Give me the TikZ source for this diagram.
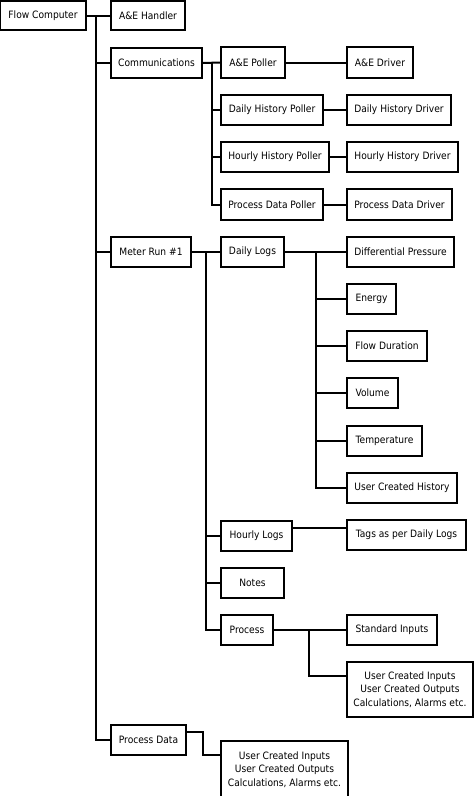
\documentclass[tikz,border=0pt]{standalone}
\usepackage{fontspec}
\setmainfont{DejaVu Sans}[FakeStretch=0.9]
\newcommand\drawbox[6]{\node[box,minimum width={(#4-#2)*0.75pt},minimum height={(#5-#3)*0.75pt}] (#1) at ({(#2+#4)/2},{(#3+#5)/2}) {#6};}
\begin{document}
\begin{tikzpicture}[x=0.75pt,y=-0.75pt,
  box/.style={draw,line width=1.5pt,inner sep=0pt,align=center,fill=white,
    font=\fontsize{7.6}{10.2}\selectfont},
  conn/.style={line width=1.5pt}]
\useasboundingbox (0,0) rectangle (474,796);
% level 1
\drawbox{fc}{0}{1}{86}{30}{Flow Computer}
\drawbox{ae}{111}{1}{185}{30}{A\&E Handler}
\drawbox{comm}{111}{48}{202}{78}{Communications}
\drawbox{mr}{111}{237}{191}{267}{Meter Run \#1}
\drawbox{pd}{111}{725}{186}{755}{Process Data}
% communications
\drawbox{aep}{221}{47}{285}{78}{A\&E Poller}
\drawbox{aed}{347}{47}{413}{78}{A\&E Driver}
\drawbox{dhp}{221}{95}{323}{125}{Daily History Poller}
\drawbox{dhd}{347}{95}{451}{125}{Daily History Driver}
\drawbox{hhp}{221}{142}{329}{172}{Hourly History Poller}
\drawbox{hhd}{347}{142}{458}{172}{Hourly History Driver}
\drawbox{pdp}{221}{189}{323}{220}{Process Data Poller}
\drawbox{pdd}{347}{189}{452}{220}{Process Data Driver}
% meter run
\drawbox{dl}{221}{237}{284}{267}{Daily Logs}
\drawbox{dp}{347}{237}{454}{267}{Differential Pressure}
\drawbox{en}{347}{284}{396}{314}{Energy}
\drawbox{fd}{347}{331}{427}{361}{Flow Duration}
\drawbox{vo}{347}{378}{398}{408}{Volume}
\drawbox{te}{347}{426}{422}{456}{Temperature}
\drawbox{uch}{347}{473}{457}{503}{User Created History}
\drawbox{hl}{221}{521}{292}{551}{Hourly Logs}
\drawbox{tags}{347}{520}{466}{550}{Tags as per Daily Logs}
\drawbox{no}{221}{568}{284}{598}{Notes}
\drawbox{pr}{221}{615}{273}{645}{Process}
\drawbox{si}{347}{615}{437}{645}{Standard Inputs}
\drawbox{pu}{347}{662}{473}{717}{User Created Inputs\\User Created Outputs\\Calculations, Alarms etc.}
\drawbox{pdu}{221}{741}{348}{798}{User Created Inputs\\User Created Outputs\\Calculations, Alarms etc.}
% bus coordinates
\coordinate (b1) at (96,15);
\coordinate (b2) at (212,63);
\coordinate (b3) at (206,252);
\coordinate (b4) at (316,252);
\coordinate (b5) at (309,630);
\coordinate (hly) at (0,528);
\coordinate (pdy) at (0,732);
\coordinate (pdx) at (203,755);
\coordinate (puy) at (0,676);
% connectors
\draw[conn] (fc.east) -- (ae.west);
\draw[conn] (b1) |- (comm.west);
\draw[conn] (b1) |- (mr.west);
\draw[conn] (b1) |- (pd.west);
\draw[conn] (comm.east) -- (aep.west);
\draw[conn] (b2) |- (dhp.west);
\draw[conn] (b2) |- (hhp.west);
\draw[conn] (b2) |- (pdp.west);
\draw[conn] (aep.east) -- (aed.west);
\draw[conn] (dhp.east) -- (dhd.west);
\draw[conn] (hhp.east) -- (hhd.west);
\draw[conn] (pdp.east) -- (pdd.west);
\draw[conn] (mr.east) -- (dl.west);
\draw[conn] (b3) |- (hl.west);
\draw[conn] (b3) |- (no.west);
\draw[conn] (b3) |- (pr.west);
\draw[conn] (dl.east) -- (dp.west);
\draw[conn] (b4) |- (en.west);
\draw[conn] (b4) |- (fd.west);
\draw[conn] (b4) |- (vo.west);
\draw[conn] (b4) |- (te.west);
\draw[conn] (b4) |- (uch.west);
\draw[conn] (hl.east |- hly) -- (tags.west |- hly);
\draw[conn] (pr.east) -- (si.west);
\draw[conn] (b5) |- (pu.west |- puy);
\draw[conn] (pd.east |- pdy) -| (pdx) -- (pdu.west |- pdx);
\end{tikzpicture}
\end{document}
